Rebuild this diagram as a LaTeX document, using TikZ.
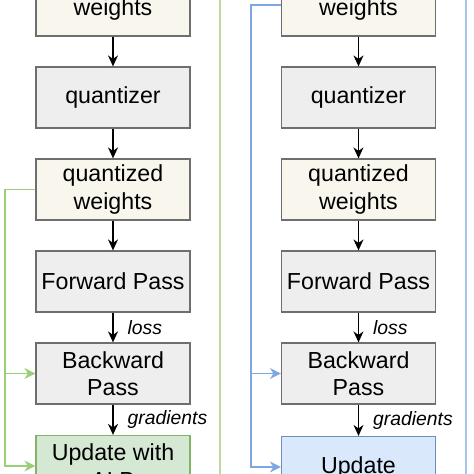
\documentclass[tikz,border=0pt]{standalone}
\usepackage{fontspec}
\setmainfont{Liberation Sans}
\usepackage{xcolor}
\usepackage{tikz}
\usetikzlibrary{arrows.meta,positioning,calc}
\definecolor{wfill}{RGB}{249,247,237}
\definecolor{gfill}{RGB}{238,238,238}
\definecolor{boxline}{RGB}{110,110,110}
\definecolor{greenfill}{RGB}{213,232,212}
\definecolor{greenline}{RGB}{130,179,102}
\definecolor{greenfb}{RGB}{151,208,119}
\definecolor{greenpale}{RGB}{185,217,160}
\definecolor{bluefill}{RGB}{218,232,252}
\definecolor{blueline}{RGB}{108,142,191}
\definecolor{bluefb}{RGB}{126,166,224}
\definecolor{bluepale}{RGB}{169,196,235}

\begin{document}
\begin{tikzpicture}[
  x=0.02cm, y=-0.02cm,
  box/.style={rectangle, draw=boxline, line width=0.7pt, minimum width=3.08cm, minimum height=1.22cm,
    inner sep=0pt, align=center, font=\fontsize{13.2}{15.5}\selectfont},
  wbox/.style={box, fill=wfill},
  gbox/.style={box, fill=gfill},
  flow/.style={line width=0.8pt, -{Stealth[length=2.2mm,width=2mm]}},
  fbgreen/.style={line width=0.8pt, color=greenfb, -{Stealth[length=2.2mm,width=2.2mm]}},
  fbblue/.style={line width=0.8pt, color=bluefb, -{Stealth[length=2.2mm,width=2.2mm]}},
  lbl/.style={right, inner sep=0pt, xshift=0.28cm, font=\fontsize{11}{13}\selectfont\itshape}
]
  \clip (0,0) rectangle (474,474);
  \fill[white] (0,0) rectangle (474,474);

  % separators
  \draw[greenpale, line width=0.8pt] (220,-10) -- (220,484);
  \draw[bluepale, line width=0.8pt] (466,-10) -- (466,484);

  % left column
  \node[wbox, minimum height=1.08cm] (lw) at (113,9) {weights};
  \node[gbox] (lq) at (113,97.5) {quantizer};
  \node[wbox] (lqw) at (113,189.5) {quantized\\weights};
  \node[gbox] (lf) at (113,281.5) {Forward Pass};
  \node[gbox] (lb) at (113,373.5) {Backward\\Pass};
  \node[box, fill=greenfill, draw=greenline] (lu) at (113,466) {Update with\\AI B};

  % right column
  \node[wbox, minimum height=1.08cm] (rw) at (358.5,9) {weights};
  \node[gbox] (rq) at (358.5,97.5) {quantizer};
  \node[wbox] (rqw) at (358.5,189.5) {quantized\\weights};
  \node[gbox] (rf) at (358.5,281.5) {Forward Pass};
  \node[gbox] (rb) at (358.5,373.5) {Backward\\Pass};
  \node[box, fill=bluefill, draw=blueline] (ru) at (358.5,467) {Update};

  \draw[flow] (lw) -- (lq);
  \draw[flow] (lq) -- (lqw);
  \draw[flow] (lqw) -- (lf);
  \draw[flow] (lf) -- (lb) node[midway, lbl] {loss};
  \draw[flow] (lb) -- (lu) node[midway, lbl] {gradients};

  \draw[flow] (rw) -- (rq);
  \draw[flow] (rq) -- (rqw);
  \draw[flow] (rqw) -- (rf);
  \draw[flow] (rf) -- (rb) node[midway, lbl] {loss};
  \draw[flow] (rb) -- (ru) node[midway, lbl] {gradients};

  % feedback
  \coordinate (gk) at (5,189.5);
  \draw[fbgreen] (lqw.west) -- (gk) |- (lb.west);
  \draw[fbgreen] (gk) |- (lu.west);
  \coordinate (bk) at (251,5);
  \draw[fbblue] (rw.west |- bk) -- (bk) |- (rb.west);
  \draw[fbblue] (bk) |- (ru.west);
\end{tikzpicture}
\end{document}
